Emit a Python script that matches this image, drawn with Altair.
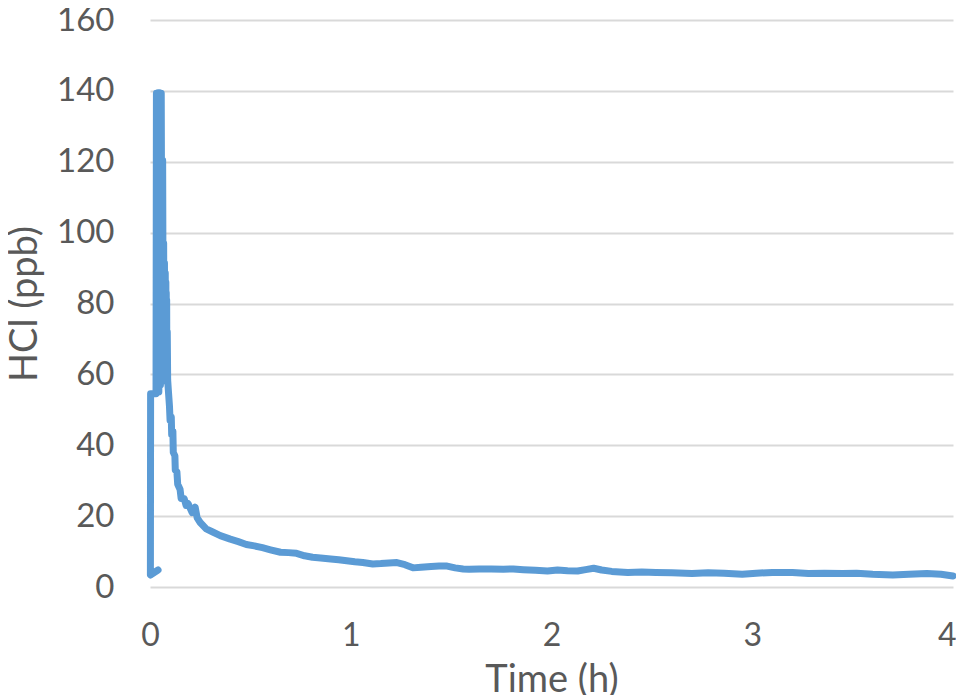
import altair as alt
import pandas as pd

# Time (h) and HCl (ppb), in recording order
time_h = [
    # start and first step
    0.040, 0.002, 0.003, 0.030,
    # saturated spike: signal swinging between ~55 and the 139.5 ceiling
    0.032, 0.036, 0.040, 0.044, 0.048, 0.052, 0.056, 0.060,
    0.063, 0.066, 0.068, 0.070, 0.072, 0.074, 0.076, 0.078, 0.079,
    0.080, 0.081, 0.082, 0.083, 0.084, 0.086, 0.088,
    # fast decay
    0.092, 0.097, 0.100, 0.106, 0.108, 0.114, 0.116, 0.124, 0.126, 0.134,
    0.138, 0.150, 0.155, 0.170, 0.180, 0.190, 0.210, 0.225, 0.235, 0.250,
    # slow tail
    0.28, 0.31, 0.35, 0.40, 0.44, 0.48, 0.52, 0.56, 0.60, 0.65, 0.69,
    0.73, 0.77, 0.81, 0.85, 0.90, 0.94, 0.98, 1.02, 1.06, 1.11, 1.15,
    1.19, 1.23, 1.27, 1.31, 1.35, 1.40, 1.44, 1.48, 1.52, 1.56, 1.59,
    1.64, 1.70, 1.76, 1.81, 1.86, 1.92, 1.98, 2.03, 2.08, 2.13, 2.17,
    2.21, 2.25, 2.30, 2.38, 2.45, 2.52, 2.60, 2.70, 2.78, 2.86, 2.95,
    3.02, 3.10, 3.20, 3.28, 3.36, 3.45, 3.52, 3.60, 3.70, 3.78, 3.87,
    3.94, 4.00,
]
hcl_ppb = [
    4.8, 3.4, 54.5, 54.5,
    139.3, 56.0, 139.5, 55.0, 139.5, 57.0, 139.3, 58.0,
    120.4, 60.0, 97.0, 62.0, 91.4, 60.0, 88.6, 62.0, 86.0,
    63.0, 83.0, 62.0, 81.0, 60.0, 72.0, 58.4,
    55.0, 51.0, 47.0, 48.0, 43.0, 44.0, 38.0, 37.0, 33.0, 32.5,
    29.0, 27.5, 25.0, 25.0, 23.0, 23.5, 21.0, 22.5, 19.5, 18.2,
    16.4, 15.6, 14.5, 13.5, 12.8, 12.0, 11.6, 11.1, 10.5, 9.8, 9.7,
    9.5, 8.8, 8.4, 8.2, 7.9, 7.7, 7.4, 7.1, 6.9, 6.5, 6.6,
    6.8, 6.9, 6.3, 5.4, 5.6, 5.8, 5.9, 5.9, 5.4, 5.1, 5.0,
    5.1, 5.1, 5.0, 5.1, 4.9, 4.7, 4.5, 4.8, 4.6, 4.5, 4.9,
    5.3, 4.8, 4.4, 4.1, 4.2, 4.1, 4.0, 3.8, 4.0, 3.9, 3.6,
    3.9, 4.1, 4.1, 3.8, 3.9, 3.8, 3.9, 3.6, 3.4, 3.6, 3.8,
    3.6, 3.1,
]

x_ticks = [0, 1, 2, 3, 4]
y_ticks = [0, 20, 40, 60, 80, 100, 120, 140, 160]

df = pd.DataFrame({"t": time_h, "hcl": hcl_ppb, "i": list(range(len(time_h)))})

BLUE = "#5B9BD5"
FONT = "Lato"
GREY = "#595959"

x_enc = alt.X(
    "t:Q",
    title="Time (h)",
    scale=alt.Scale(domain=[0, 4], nice=False, zero=False),
    axis=alt.Axis(values=x_ticks, grid=False, domain=False, ticks=False,
                  labelFlush=False,
                  labelAlign=alt.condition("datum.value == 4",
                                           alt.value("right"),
                                           alt.value("center")),
                  labelOffset=alt.condition("datum.value == 4",
                                            alt.value(3), alt.value(0)),
                  labelFontSize=32, labelColor=GREY,
                  labelFont=FONT, labelPadding=33, titleFontSize=38,
                  titleColor=GREY, titleFont=FONT, titleFontWeight="normal",
                  titlePadding=10, format="d"),
)
y_enc = alt.Y(
    "hcl:Q",
    title="HCl (ppb)",
    scale=alt.Scale(domain=[0, 160], nice=False),
    axis=alt.Axis(values=y_ticks, grid=True, gridColor="#D9D9D9", gridWidth=2,
                  domain=False, ticks=False, labelFontSize=33,
                  labelColor=GREY, labelFont=FONT, labelPadding=36,
                  titleFontSize=38, titleColor=GREY, titleFont=FONT,
                  titleFontWeight="normal", titlePadding=12, format="d"),
)

chart = alt.Chart(df).mark_line(
    color=BLUE, strokeWidth=7, strokeJoin="round", strokeCap="round"
).encode(x=x_enc, y=y_enc, order="i:Q").properties(
    width=803, height=567,
    background="white",
    autosize=alt.AutoSizeParams(type="none"),
    padding={"left": 142, "top": 12, "right": 3, "bottom": 108},
).configure_view(stroke=None)

chart.save("out.html", embed_options={"renderer": "svg", "actions": False})
